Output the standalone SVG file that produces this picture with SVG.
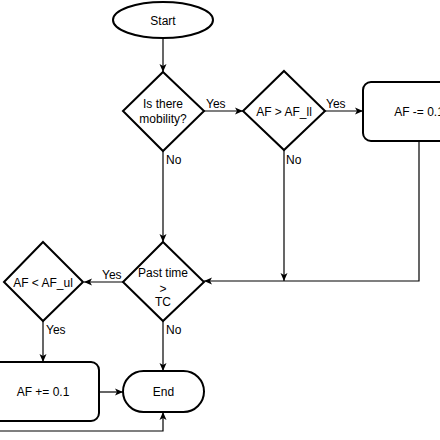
<svg xmlns="http://www.w3.org/2000/svg" width="440" height="440" viewBox="0 0 440 440">
<style>
.shape{fill:#fff;stroke:#000;stroke-width:2}
.t{font-family:"Liberation Sans",Arial,sans-serif;font-size:12px;fill:#000;text-anchor:middle;dominant-baseline:central}
.lbl{font-family:"Liberation Sans",Arial,sans-serif;font-size:12px;fill:#000}
.c{fill:none;stroke:#000;stroke-width:1.2}
</style>
<defs>
<marker id="arr" markerUnits="userSpaceOnUse" markerWidth="10" markerHeight="10" refX="8" refY="4" orient="auto">
<path d="M0,0.5 L8,4 L0,7.5 L2,4 z" fill="#000"/>
</marker>
</defs>
<rect width="440" height="440" fill="#fff"/>
<g id="connectors">
<path class="c" d="M163,38 V72" marker-end="url(#arr)"/>
<path class="c" d="M204,111 H243" marker-end="url(#arr)"/>
<path class="c" d="M325,111 H363" marker-end="url(#arr)"/>
<path class="c" d="M163,151 V242" marker-end="url(#arr)"/>
<path class="c" d="M284,150 V281" marker-end="url(#arr)"/>
<path class="c" d="M419,141 V281 H204" marker-end="url(#arr)"/>
<path class="c" d="M123,282 H84" marker-end="url(#arr)"/>
<path class="c" d="M43,321 V362" marker-end="url(#arr)"/>
<path class="c" d="M163,321 V371" marker-end="url(#arr)"/>
<path class="c" d="M99,392 H123" marker-end="url(#arr)"/>
<path class="c" d="M0,431 H163 V412" marker-end="url(#arr)"/>
<text class="lbl" x="206" y="108">Yes</text>
<text class="lbl" x="326" y="108">Yes</text>
<text class="lbl" x="166" y="164">No</text>
<text class="lbl" x="286" y="164">No</text>
<text class="lbl" x="102" y="279">Yes</text>
<text class="lbl" x="46" y="334">Yes</text>
<text class="lbl" x="166" y="334">No</text>
</g>
<g id="start">
<ellipse class="shape" cx="163" cy="20" rx="50" ry="18"/>
<text class="t" x="163" y="21">Start</text>
</g>
<g id="mobility">
<polygon class="shape" points="163,72 204,111 163,151 123,111"/>
<text class="t" x="163" y="104">Is there</text>
<text class="t" x="163" y="119">mobility?</text>
</g>
<g id="af_ll">
<polygon class="shape" points="284,71 325,111 284,150 243,111"/>
<text class="t" x="284" y="112">AF &gt; AF_ll</text>
</g>
<g id="af_dec">
<rect class="shape" x="363" y="82" width="112" height="59" rx="8"/>
<text class="t" x="419" y="112">AF -= 0.1</text>
</g>
<g id="pasttime">
<polygon class="shape" points="163,242 204,282 163,321 123,282"/>
<text class="t" x="163" y="273">Past time</text>
<text class="t" x="163" y="289">&gt;</text>
<text class="t" x="163" y="302">TC</text>
</g>
<g id="af_ul">
<polygon class="shape" points="43,242 83,282 43,321 4,282"/>
<text class="t" x="43" y="283">AF &lt; AF_ul</text>
</g>
<g id="af_inc">
<rect class="shape" x="-13" y="362" width="112" height="59" rx="8"/>
<text class="t" x="43" y="392">AF += 0.1</text>
</g>
<g id="end">
<rect class="shape" x="123" y="371" width="81" height="41" rx="20.5"/>
<text class="t" x="163.5" y="392">End</text>
</g>
</svg>
